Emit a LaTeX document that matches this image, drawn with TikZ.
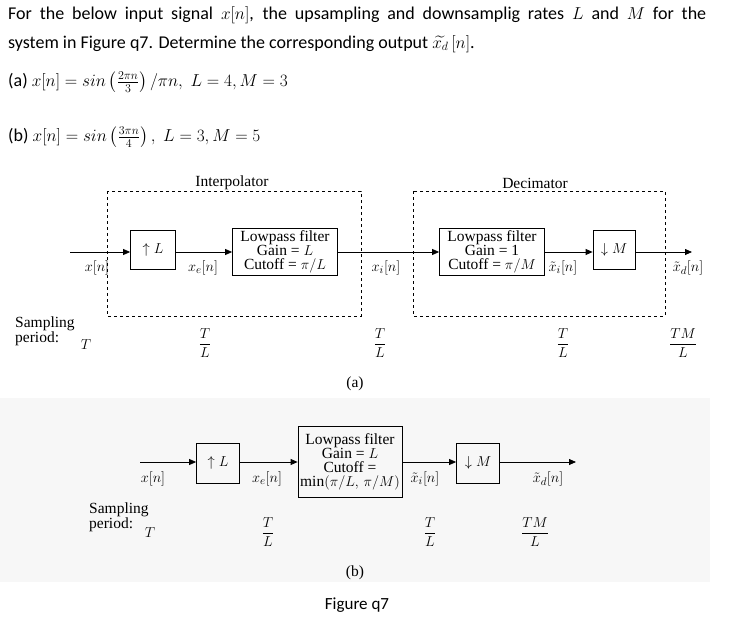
\documentclass[tikz,border=0pt]{standalone}
\usepackage{amsmath}
\usepackage{fontspec}
\setmainfont{Carlito}
\newfontfamily\tms{Liberation Serif}
\usetikzlibrary{arrows.meta}
\tikzset{
  blk/.style={draw, thick, inner sep=0pt, font=\tms\fontsize{15.5}{14}\selectfont, align=center},
  sig/.style={thick, -{Triangle[length=7pt,width=6pt]}},
  lbl/.style={font=\tms\fontsize{15.5}{14}\selectfont, inner sep=1pt},
  dbox/.style={draw, dashed, thin},
  q/.style={font=\fontsize{18}{18}\selectfont, anchor=west, inner sep=0pt}
}
\begin{document}
\begin{tikzpicture}[x=1pt,y=-1pt]
\useasboundingbox (0,0) rectangle (732,626);
\fill[black!3] (0,398) rectangle (710,582);
% question text
\node[q] (t1) at (8,15) {\makebox[698pt][s]{For the below input signal $x[n]$, the upsampling and downsamplig rates $L$ and $M$ for the}};
\node[q] (t2) at (8,44) {system in Figure q7. Determine the corresponding output $\widetilde{x_d}\,[n]$.};
\node[q] (t3) at (8,82) {(a) $x[n]=sin\left(\frac{2\pi n}{3}\right)/\pi n,\; L=4, M=3$};
\node[q] (t4) at (8,137) {(b) $x[n]=sin\left(\frac{3\pi n}{4}\right),\; L=3, M=5$};
% (a)
\draw[dbox] (107,191) rectangle (361,316);
\draw[dbox] (413,191) rectangle (665,316);
\node[lbl] (ip) at (232,183) {Interpolator};
\node[lbl] (dc) at (535,183) {Decimator};
\coordinate (ain) at (70,252);
\coordinate (aout) at (692,252);
\node[blk, minimum width=45pt, minimum height=39pt] (aup) at (153,250) {$\uparrow L$};
\node[blk, minimum width=105pt, minimum height=47pt] (alp) at (285,252) {Lowpass filter\\Gain = $L$\\Cutoff = $\pi/L$};
\node[blk, minimum width=105pt, minimum height=47pt] (adlp) at (492,252) {Lowpass filter\\Gain = 1\\Cutoff = $\pi/M$};
\node[blk, minimum width=42pt, minimum height=39pt] (adn) at (614,250) {$\downarrow M$};
\draw[sig] (ain) -- (ain -| aup.west);
\draw[sig] (aup.east |- ain) -- (ain -| alp.west);
\draw[sig] (alp) -- (adlp);
\draw[sig] (adlp.east |- ain) -- (ain -| adn.west);
\draw[sig] (adn.east |- ain) -- (aout);
\node[lbl] (ax) at (97,268) {$x[n]$};
\node[lbl] (axe) at (203,268) {$x_e[n]$};
\node[lbl] (axi) at (386,268) {$x_i[n]$};
\node[lbl] (axti) at (563,268) {$\tilde{x}_i[n]$};
\node[lbl] (axtd) at (688,268) {$\tilde{x}_d[n]$};
\node[lbl, align=left, anchor=west] (asp) at (14,331) {Sampling\\period:};
\node[lbl] (aT) at (86,345) {$T$};
\node[lbl] (aT1) at (205,343) {$\dfrac{T}{L}$};
\node[lbl] (aT2) at (380,343) {$\dfrac{T}{L}$};
\node[lbl] (aT3) at (563,343) {$\dfrac{T}{L}$};
\node[lbl] (aT4) at (683,343) {$\dfrac{TM}{L}$};
\node[lbl] (acap) at (355,384) {(a)};
% (b)
\coordinate (bin) at (140,462);
\coordinate (bout) at (576,462);
\node[blk, minimum width=43pt, minimum height=40pt] (bup) at (218,463) {$\uparrow L$};
\node[blk, minimum width=104pt, minimum height=71pt] (blp) at (350,462) {Lowpass filter\\Gain = $L$\\Cutoff =\\min$(\pi/L,\,\pi/M)$};
\node[blk, minimum width=43pt, minimum height=40pt] (bdn) at (478,463) {$\downarrow M$};
\draw[sig] (bin) -- (bin -| bup.west);
\draw[sig] (bup.east |- bin) -- (bin -| blp.west);
\draw[sig] (blp.east |- bin) -- (bin -| bdn.west);
\draw[sig] (bdn.east |- bin) -- (bout);
\node[lbl] (bx) at (153,479) {$x[n]$};
\node[lbl] (bxe) at (267,479) {$x_e[n]$};
\node[lbl] (bxti) at (425,479) {$\tilde{x}_i[n]$};
\node[lbl] (bxtd) at (548,479) {$\tilde{x}_d[n]$};
\node[lbl, align=left, anchor=west] (bsp) at (88,517) {Sampling\\period:};
\node[lbl] (bT) at (150,533) {$T$};
\node[lbl] (bT1) at (268,532) {$\dfrac{T}{L}$};
\node[lbl] (bT2) at (430,532) {$\dfrac{T}{L}$};
\node[lbl] (bT3) at (535,532) {$\dfrac{TM}{L}$};
\node[lbl] (bcap) at (355,573) {(b)};
\node[font=\fontsize{17}{17}\selectfont] (fig) at (357,605) {Figure q7};
\end{tikzpicture}
\end{document}
